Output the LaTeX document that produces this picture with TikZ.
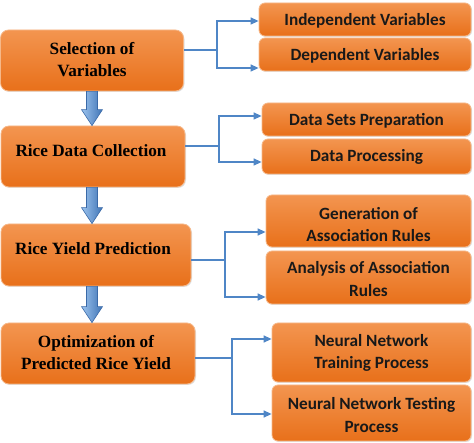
\documentclass[tikz,border=0pt]{standalone}
\usepackage{fontspec}
\setmainfont{Liberation Serif}
\newfontfamily\carl{Carlito}
\usetikzlibrary{arrows.meta,calc,shadows}
\definecolor{orA}{HTML}{F39550}
\definecolor{orB}{HTML}{E8701A}
\definecolor{orEdge}{HTML}{F6B889}
\definecolor{lnblue}{HTML}{4F86C6}
\definecolor{baL}{HTML}{9CC3EE}
\definecolor{baR}{HTML}{3F74B5}
\definecolor{baEdge}{HTML}{3A6AA8}
\tikzset{
  obox/.style={draw=orEdge, line width=0.8pt, rounded corners=8pt, top color=orA, bottom color=orB, inner sep=0pt,
     drop shadow={shadow xshift=1pt, shadow yshift=-1pt, opacity=0.25}},
  lbox/.style={obox},
  rbox/.style={obox, rounded corners=6pt},
  ltext/.style={font=\fontsize{17.2}{22}\selectfont\bfseries, align=center, text=black, inner sep=0pt},
  rtext/.style={font=\carl\fontsize{17.2}{22.5}\selectfont\bfseries, align=center, text=black!90, inner sep=0pt},
  conn/.style={draw=lnblue, line width=1.3pt},
  carr/.style={conn, -{Triangle[length=8pt,width=7pt]}},
  barrow/.style={draw=baEdge, line width=0.6pt, left color=baL, right color=baR}
}
\begin{document}
\begin{tikzpicture}[x=1pt,y=-1pt]
\useasboundingbox (0,0) rectangle (474,443);
% left boxes
\node[lbox, minimum width=183, minimum height=61] (s1) at (92,60.5) {};
\node[lbox, minimum width=184, minimum height=61] (s2) at (93,156.5) {};
\node[lbox, minimum width=190, minimum height=62] (s3) at (96,255) {};
\node[lbox, minimum width=194, minimum height=61] (s4) at (98,353.5) {};
\node[ltext] (t1) at (92,60) {Selection of\\Variables};
\node[ltext] (t2) at (91,151) {Rice Data Collection};
\node[ltext] (t3) at (93,249) {Rice Yield Prediction};
\node[ltext] (t4) at (96,353) {Optimization of\\Predicted Rice Yield};
% right boxes
\node[rbox, minimum width=212, minimum height=33] (r1) at (365,19.5) {};
\node[rbox, minimum width=212, minimum height=33] (r2) at (365,54.5) {};
\node[rbox, minimum width=209, minimum height=33] (r3) at (366.5,119.5) {};
\node[rbox, minimum width=209, minimum height=35] (r4) at (366.5,156.5) {};
\node[rbox, minimum width=205, minimum height=52] (r5) at (368.5,221) {};
\node[rbox, minimum width=205, minimum height=53] (r6) at (368.5,277.5) {};
\node[rbox, minimum width=199, minimum height=59] (r7) at (371.5,352.5) {};
\node[rbox, minimum width=199, minimum height=56] (r8) at (371.5,413) {};
\node[rtext] (u1) at (365,21) {Independent Variables};
\node[rtext] (u2) at (365,56) {Dependent Variables};
\node[rtext] (u3) at (366.5,121) {Data Sets Preparation};
\node[rtext] (u4) at (366.5,157) {Data Processing};
\node[rtext] (u5) at (368.5,224.5) {Generation of\\Association Rules};
\node[rtext] (u6) at (368.5,279) {Analysis of Association\\Rules};
\node[rtext] (u7) at (371.5,353) {Neural Network\\Training Process};
\node[rtext] (u8) at (371.5,415) {Neural Network Testing\\Process};
% connectors
\coordinate (j1) at (217,50);
\coordinate (j2) at (219,146);
\coordinate (j3) at (225,260);
\coordinate (j4) at (232,358);
\draw[conn] (s1.east |- j1) -- (j1);
\draw[carr] (j1) |- (r1.west |- 0,21);
\draw[carr] (j1) |- (r2.west |- 0,68);
\draw[conn] (s2.east |- j2) -- (j2);
\draw[carr] (j2) |- (r3.west |- 0,116);
\draw[carr] (j2) |- (r4.west |- 0,162);
\draw[conn] (s3.east |- j3) -- (j3);
\draw[carr] (j3) |- (r5.west |- 0,232);
\draw[carr] (j3) |- (r6.west |- 0,297);
\draw[conn] (s4.east |- j4) -- (j4);
\draw[carr] (j4) |- (r7.west |- 0,339);
\draw[carr] (j4) |- (r8.west |- 0,414);
% block arrows
\foreach \a/\b in {s1/s2,s2/s3,s3/s4}{
  \path[barrow] let \p1=(\a.south), \p2=(\b.north) in
    (86.5pt,\y1) -- (97.5pt,\y1) -- (97.5pt,\y2+16pt) -- (102.5pt,\y2+16pt) -- (92pt,\y2) -- (81.5pt,\y2+16pt) -- (86.5pt,\y2+16pt) -- cycle;
}
\end{tikzpicture}
\end{document}
